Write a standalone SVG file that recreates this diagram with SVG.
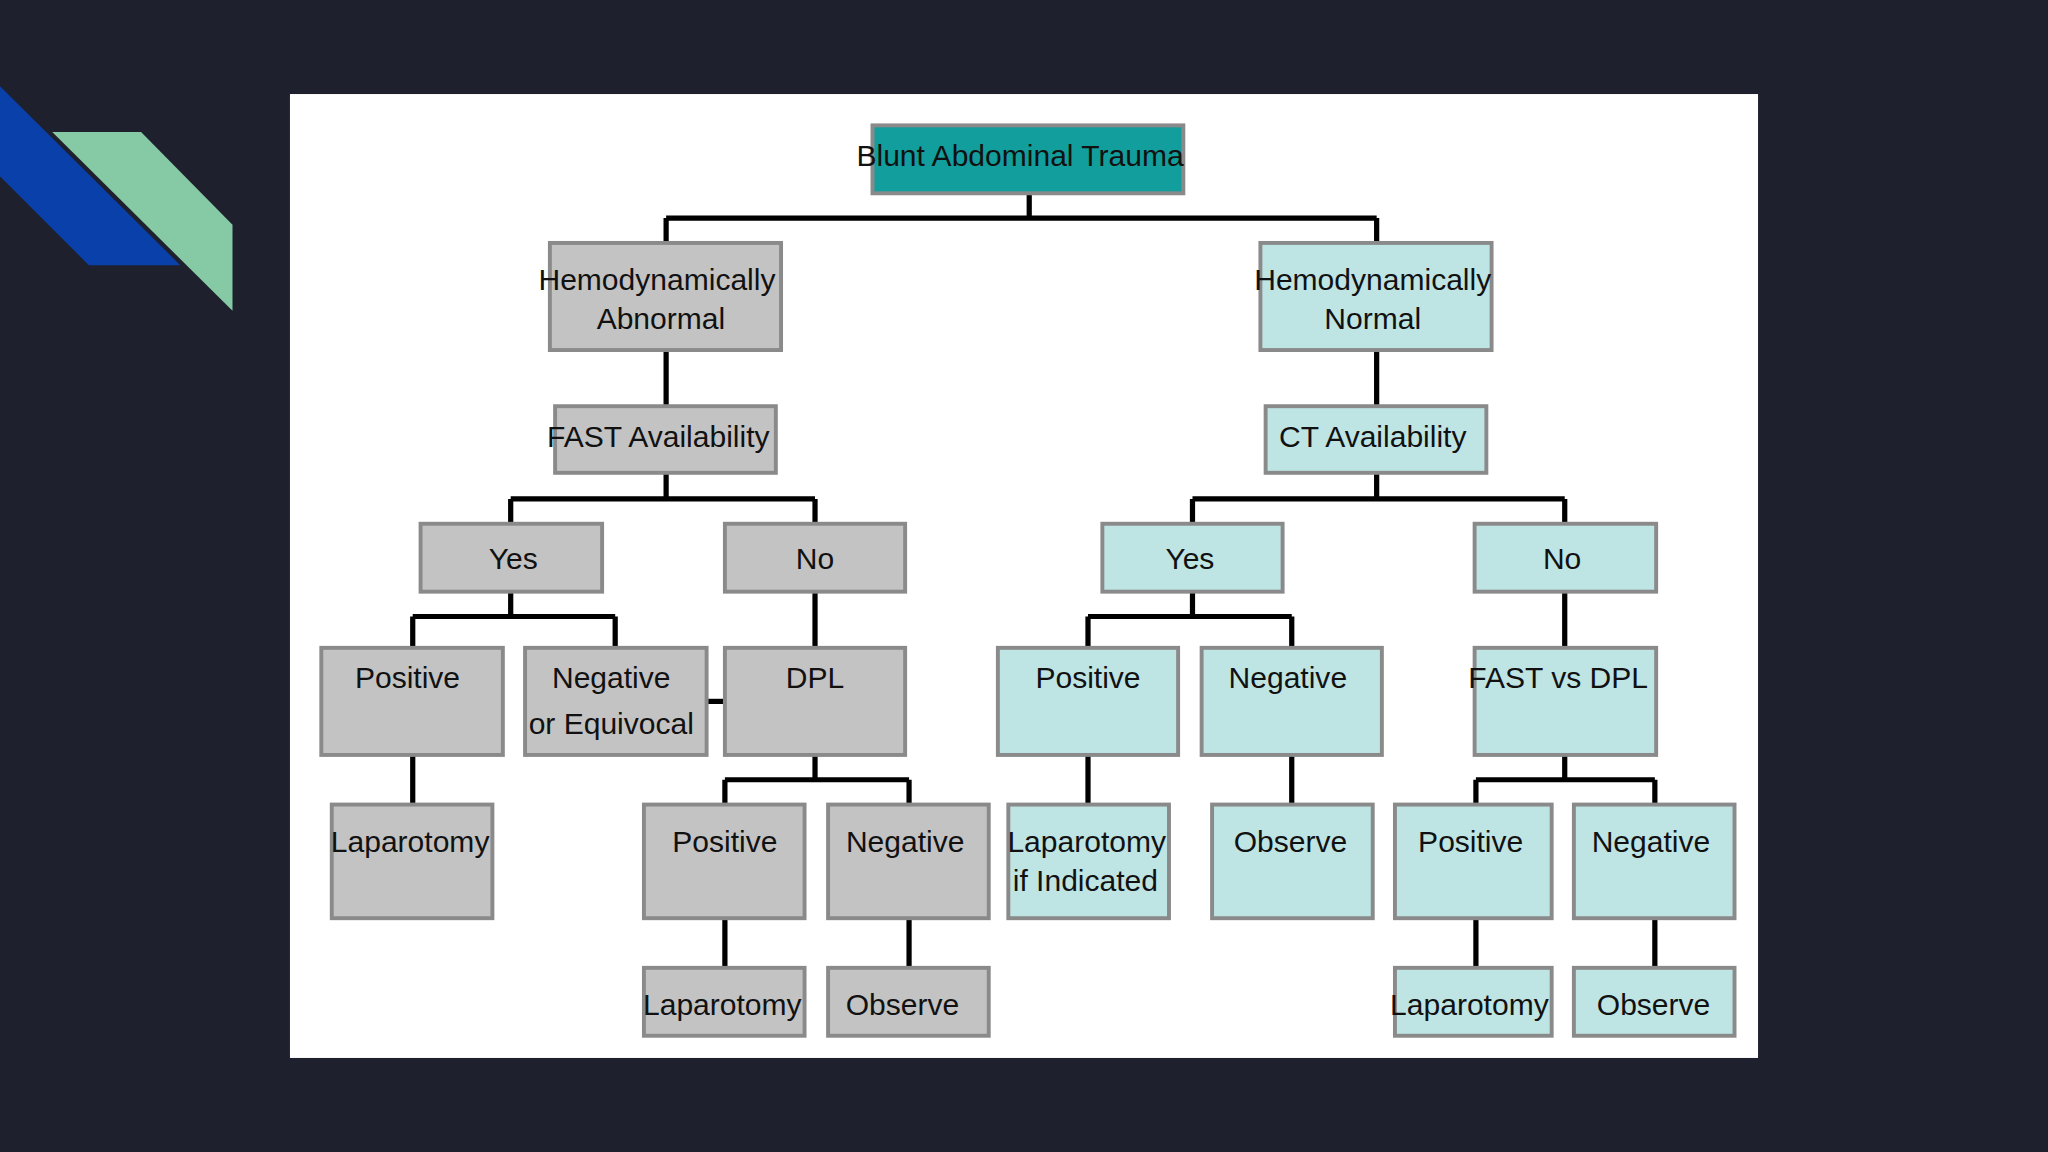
<svg xmlns="http://www.w3.org/2000/svg" width="2048" height="1152" viewBox="0 0 2048 1152">
<style>
.g rect{fill:#c3c3c3;stroke:#8a8a8a;stroke-width:3}
.c rect{fill:#bfe4e4;stroke:#8a8a8a;stroke-width:3}
text{font-family:"Liberation Sans Narrow","Liberation Sans",Arial,sans-serif;font-size:23px;fill:#111;text-anchor:middle}
#conn path{stroke:#000;stroke-width:4;fill:none}
</style>
<rect width="2048" height="1152" fill="#1e202d"/>
<g transform="scale(1.30612)">
<polygon points="0,66 138,203 68,203 0,135" fill="#0a40aa"/>
<polygon points="40,101 108,101 178,172 178,238" fill="#86c9a5"/>
<rect x="222" y="72" width="1124" height="738" fill="#fff"/>
<g id="conn">
<path d="M788,148V167M510,167H1054M510,167V186M1054,167V186"/>
<path d="M510,268V311M1054,268V311"/>
<path d="M510,362V382M391,382H624M391,382V401M624,382V401"/>
<path d="M1054,362V382M913,382H1198M913,382V401M1198,382V401"/>
<path d="M391,453V472M316,472H471M316,472V496M471,472V496M624,453V496"/>
<path d="M913,453V472M833,472H989M833,472V496M989,472V496M1198,453V496"/>
<path d="M541,537H555"/>
<path d="M316,578V616M833,578V616M989,578V616"/>
<path d="M624,578V597M555,597H696M555,597V616M696,597V616"/>
<path d="M1198,578V597M1130,597H1267M1130,597V616M1267,597V616"/>
<path d="M555,703V741M696,703V741M1130,703V741M1267,703V741"/>
</g>
<g id="n1"><rect x="668" y="96" width="238" height="52" fill="#129e9c" stroke="#8a8a8a" stroke-width="3"/><text x="781" y="127">Blunt Abdominal Trauma</text></g>
<g id="n2" class="g"><rect x="421" y="186" width="177" height="82"/><text x="503" y="222">Hemodynamically</text><text x="506" y="252">Abnormal</text></g>
<g id="n3" class="c"><rect x="965" y="186" width="177" height="82"/><text x="1051" y="222">Hemodynamically</text><text x="1051" y="252">Normal</text></g>
<g id="n4" class="g"><rect x="425" y="311" width="169" height="51"/><text x="504" y="342">FAST Availability</text></g>
<g id="n5" class="c"><rect x="969" y="311" width="169" height="51"/><text x="1051" y="342">CT Availability</text></g>
<g id="n6" class="g"><rect x="322" y="401" width="139" height="52"/><text x="393" y="436">Yes</text></g>
<g id="n7" class="g"><rect x="555" y="401" width="138" height="52"/><text x="624" y="436">No</text></g>
<g id="n8" class="c"><rect x="844" y="401" width="138" height="52"/><text x="911" y="436">Yes</text></g>
<g id="n9" class="c"><rect x="1129" y="401" width="139" height="52"/><text x="1196" y="436">No</text></g>
<g id="n10" class="g"><rect x="246" y="496" width="139" height="82"/><text x="312" y="527">Positive</text></g>
<g id="n11" class="g"><rect x="402" y="496" width="139" height="82"/><text x="468" y="527">Negative</text><text x="468" y="562">or Equivocal</text></g>
<g id="n12" class="g"><rect x="555" y="496" width="138" height="82"/><text x="624" y="527">DPL</text></g>
<g id="n13" class="c"><rect x="764" y="496" width="138" height="82"/><text x="833" y="527">Positive</text></g>
<g id="n14" class="c"><rect x="920" y="496" width="138" height="82"/><text x="986" y="527">Negative</text></g>
<g id="n15" class="c"><rect x="1129" y="496" width="139" height="82"/><text x="1193" y="527">FAST vs DPL</text></g>
<g id="n16" class="g"><rect x="254" y="616" width="123" height="87"/><text x="314" y="652">Laparotomy</text></g>
<g id="n17" class="g"><rect x="493" y="616" width="123" height="87"/><text x="555" y="652">Positive</text></g>
<g id="n18" class="g"><rect x="634" y="616" width="123" height="87"/><text x="693" y="652">Negative</text></g>
<g id="n19" class="c"><rect x="772" y="616" width="123" height="87"/><text x="832" y="652">Laparotomy</text><text x="831" y="682">if Indicated</text></g>
<g id="n20" class="c"><rect x="928" y="616" width="123" height="87"/><text x="988" y="652">Observe</text></g>
<g id="n21" class="c"><rect x="1068" y="616" width="120" height="87"/><text x="1126" y="652">Positive</text></g>
<g id="n22" class="c"><rect x="1205" y="616" width="123" height="87"/><text x="1264" y="652">Negative</text></g>
<g id="n23" class="g"><rect x="493" y="741" width="123" height="52"/><text x="553" y="777">Laparotomy</text></g>
<g id="n24" class="g"><rect x="634" y="741" width="123" height="52"/><text x="691" y="777">Observe</text></g>
<g id="n25" class="c"><rect x="1068" y="741" width="120" height="52"/><text x="1125" y="777">Laparotomy</text></g>
<g id="n26" class="c"><rect x="1205" y="741" width="123" height="52"/><text x="1266" y="777">Observe</text></g>
</g>
</svg>
